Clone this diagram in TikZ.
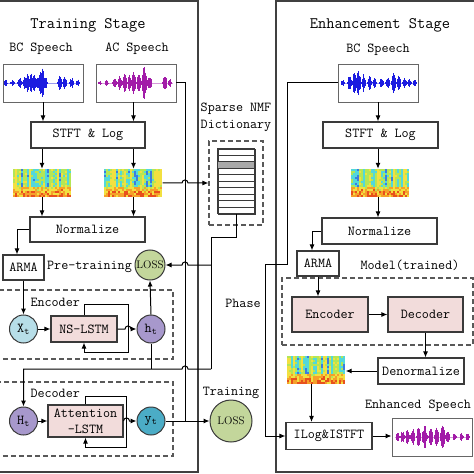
\documentclass[tikz,border=0pt]{standalone}
\usetikzlibrary{arrows, arrows.meta, positioning, calc}
\definecolor{borde}{HTML}{3A3A3A}
\definecolor{marco}{HTML}{404040}
\definecolor{rosa}{HTML}{F2DCDB}
\definecolor{oliva}{HTML}{C3D69B}
\definecolor{celeste}{HTML}{B7DEE8}
\definecolor{lila}{HTML}{A798CC}
\definecolor{turquesa}{HTML}{4BACC6}
\definecolor{azulonda}{HTML}{1C1CE0}
\definecolor{moradonda}{HTML}{A21CA8}
\definecolor{spazul}{HTML}{3C7CE0}
\definecolor{spcian}{HTML}{52D8DA}
\definecolor{spverde}{HTML}{B4E655}
\definecolor{spamar}{HTML}{F2E040}
\definecolor{spnaran}{HTML}{F5A02A}
\definecolor{sprojo}{HTML}{E8501C}
\definecolor{grisd}{HTML}{A9A9A9}
\tikzset{
  caja/.style={rectangle, draw=borde, line width=1.1bp, fill=white, minimum width=114bp,
               minimum height=26bp, inner sep=2bp},
  cajarosa/.style={rectangle, draw=borde, line width=1.1bp, fill=rosa, inner sep=2bp, align=center},
  onda/.style={rectangle, draw=gray!80!black, line width=0.9bp, fill=white, minimum width=80bp, minimum height=38bp},
  espec/.style={rectangle, minimum width=58bp, minimum height=28bp, inner sep=0pt},
  estado/.style={circle, draw=borde, line width=1bp, minimum size=28bp, inner sep=0pt},
  perdida/.style={circle, draw=borde, line width=1bp, fill=oliva, inner sep=0pt, font=\fontsize{11bp}{12bp}\rmfamily},
  grupo/.style={rectangle, draw=gray!70!black, line width=1.1bp, dash pattern=on 5bp off 3bp},
  arrow/.style={line width=1bp, ->, >={Latex[length=6bp,width=5bp]}, color=black},
  linea/.style={line width=1bp, color=black},
  marcop/.style={draw=marco, line width=2bp},
  titulo/.style={font=\fontsize{16bp}{18bp}\ttfamily}
}
% rafagas de la onda: desplazamiento/amplitud/semiancho
\newcommand{\pintaonda}[3]{%
  \begin{scope}[shift={(#1.west)}]
    \draw[#2!45, line width=0.5bp] (3,0) -- (77,0);
    \foreach \ox/\am/\an in {#3} {
      \foreach \k in {-1,-0.75,...,1} {
        \pgfmathsetmacro\hh{\am*(1-0.8*(\k)*(\k))*(0.5+0.5*rnd)}
        \draw[#2, line width=0.7bp] (\ox+\k*\an,-\hh) -- (\ox+\k*\an,\hh);
      }
    }
  \end{scope}}
% espectrograma de celdas de 2bp
\newcommand{\pintaespec}[1]{%
  \begin{scope}[shift={(#1.north west)}]
    \foreach \i in {0,...,28} {
      \pgfmathsetmacro\cb{rnd}
      \foreach \j in {0,...,13} {
        \pgfmathtruncatemacro\c{\j<9 ? min(3,max(0,floor(0.9+\cb*2.7+1.1*(rnd-0.5)))) : min(5,floor(2.6+2.4*rnd+(\j-9)*0.25))}
        \ifcase\c \def\spc{spazul}\or \def\spc{spcian}\or \def\spc{spverde}\or
          \def\spc{spamar}\or \def\spc{spnaran}\else \def\spc{sprojo}\fi
        \fill[\spc] (2*\i,2*\j) rectangle ++(2.1,2.1);
      }
    }
  \end{scope}}

\begin{document}
\begin{tikzpicture}[x=1bp, y=-1bp, font=\fontsize{13.7bp}{16bp}\ttfamily]
  \pgfmathsetseed{12}
  \useasboundingbox (0,0) rectangle (474,474);
  \draw[marcop] (-5,1) rectangle (198,472);
  \draw[marcop] (276,1) rectangle (480,472);

  % training stage
  \node (tit1) [titulo] at (88,25) {Training Stage};
  \node (lbc) at (41,49) {BC Speech};
  \node (lac) at (137,49) {AC Speech};
  \node (wbc) [onda] at (43,83) {};
  \node (wac) [onda] at (136,83) {};
  \pintaonda{wbc}{azulonda}{3/3/1.5, 10/3/2, 17/5/2, 22/7/2, 25/9/2, 29/10/2, 32/9/2, 36/7/1.5, 39/16/3, 43/6/1.5, 57/8/2, 62/6/2, 69/5/2, 75/4/1.5}
  \pintaonda{wac}{moradonda}{4/2/1.5, 11/3/1.5, 19/5/2, 24/7/2, 29/10/2, 34/9/2, 38/11/2, 43/9/2, 49/16/3, 54/7/2, 69/9/2, 74/4/1.5}
  \node (stft) [caja] at (88,135) {STFT \& Log};
  \node (sbc) [espec] at (42,183) {};
  \node (sac) [espec] at (133.5,183) {};
  \pintaespec{sbc}
  \pintaespec{sac}
  \node (norm) [caja, minimum width=115bp, minimum height=25bp] at (87.5,229.5) {Normalize};
  \node (arma) [caja, minimum width=41bp, minimum height=25bp] at (23.5,267.5) {ARMA};
  \node (lpre) at (89.5,267) {Pre-training};
  \node (lossp) [perdida, minimum size=30bp] at (150,265) {LOSS};
  \node (gen) [grupo, minimum width=178bp, minimum height=69bp] at (84,324.5) {};
  \node (lenc) [anchor=west] at (27,302) {Encoder};
  \node (xt) [estado, fill=celeste] at (23.5,329) {X\textsubscript{t}};
  \node (ns) [cajarosa, minimum width=66bp, minimum height=26bp] at (84,329) {NS-LSTM};
  \node (ht) [estado, fill=lila] at (151,329) {h\textsubscript{t}};
  \node (gdec) [grupo, minimum width=178bp, minimum height=74bp] at (84,419) {};
  \node (ldec) [anchor=west] at (27,393) {Decoder};
  \node (Ht) [estado, fill=lila] at (23.5,421) {H\textsubscript{t}};
  \node (att) [cajarosa, minimum width=75bp, minimum height=32bp] at (85.5,421) {Attention\\-LSTM};
  \node (yt) [estado, fill=turquesa] at (151,421) {y\textsubscript{t}};
  \node (ltr) at (231,393) {Training};
  \node (losst) [perdida, minimum size=42bp] at (231,421) {LOSS};

  % dictionary
  \node (lsp) [align=center, font=\fontsize{13.7bp}{17bp}\ttfamily] at (236,117) {Sparse NMF\\Dictionary};
  \node (gdic) [grupo, minimum width=54bp, minimum height=84bp] at (236,183) {};
  \node (dtab) [rectangle, draw=borde, line width=0.9bp, minimum width=37bp, minimum height=65bp, inner sep=0pt] at (236.5,181.5) {};
  \begin{scope}[shift={(dtab.north west)}]
    \fill[grisd] (0,13) rectangle (37,19.5);
    \foreach \r in {1,...,9}
      \draw[borde, line width=0.8bp] (0,6.5*\r) -- (37,6.5*\r);
    \draw[borde, line width=0.9bp] (0,0) rectangle (37,65);
  \end{scope}
  \coordinate (nudo1) at (211,265);
  \coordinate (nudo2) at (211,369);
  \coordinate (jac) at (185,421);

  \draw[arrow] (wbc.south) -- (wbc.south |- stft.north);
  \draw[arrow] (sac |- wac.south) -- (sac |- stft.north);
  \draw[arrow] (sbc |- stft.south) -- (sbc.north);
  \draw[arrow] (sac |- stft.south) -- (sac.north);
  \draw[arrow] (sbc.south) -- (sbc.south |- norm.north);
  \draw[arrow] (sac.south) -- (sac.south |- norm.north);
  \draw[arrow] (norm.west) -| ([xshift=-6.5bp]arma.north);
  \draw[arrow] (arma.south) -- (xt.north);
  \draw[arrow] (xt.east) -- (ns.west);
  \draw[arrow] (ns.east) -- (125,329) .. controls (125,325) and (131,325) .. (131,329) -- (ht.west);
  \draw[arrow] (ns.north) -- ++(0,-11) -- ++(44,0) -- ++(0,48) -- ++(-44,0) -- (ns.south);
  \draw[arrow] (ht.north) -- (lossp.south);
  \draw[linea] (ht.south) -- (ht.south |- nudo2);
  \draw[arrow] (Ht.east) -- (att.west);
  \draw[arrow] (att.east) .. controls (123.5,417) and (129.5,417) .. (129.5,421) -- (yt.west);
  \draw[arrow] (att.north) -- ++(0,-8) -- ++(40.5,0) -- ++(0,51) -- ++(-40.5,0) -- (att.south);
  \draw[arrow] (yt.east) -- (losst.west);
  \draw[linea] (wac.east) -| (jac);
  \draw[arrow] (sac.east) -- (182,183) .. controls (182,179) and (188,179) .. (188,183) -- (gdic.west);
  \draw[linea] (dtab.south) -- ++(0,23) -| (nudo2);
  \draw[arrow] (nudo1) -- (188,265) .. controls (188,261) and (182,261) .. (182,265) -- (lossp.east);
  \draw[arrow] (nudo2) -- (188,369) .. controls (188,365) and (182,365) .. (182,369) -| (Ht.north);

  % enhancement stage
  \node (tit2) [titulo] at (380,25) {Enhancement Stage};
  \node (lbc2) at (378,50) {BC Speech};
  \node (wbc2) [onda] at (378,83) {};
  \pintaonda{wbc2}{azulonda}{5/3/1.5, 12/8/2, 17/11/2, 21/13/2, 26/9/2, 32/7/2, 37/5/2, 44/5/2, 50/7/2, 56/10/2, 61/8/2, 67/5/2, 72/4/2, 77/3/1.5}
  \node (stft2) [caja, minimum width=115bp] at (380.5,135) {STFT \& Log};
  \node (se) [espec] at (380.5,183) {};
  \pintaespec{se}
  \node (norm2) [caja, minimum width=115bp] at (379.5,231) {Normalize};
  \node (arma2) [caja, minimum width=42bp, minimum height=25bp] at (318,263.5) {ARMA};
  \node (lmod) at (410,265) {Model(trained)};
  \node (gmod) [grupo, minimum width=191bp, minimum height=67bp] at (377.5,311.5) {};
  \node (enc) [cajarosa, minimum width=76bp, minimum height=35bp] at (330,314.5) {Encoder};
  \node (dec) [cajarosa, minimum width=75bp, minimum height=35bp] at (425.5,314.5) {Decoder};
  \node (den) [caja, minimum width=86bp, minimum height=26bp] at (421,371) {Denormalize};
  \node (so) [espec] at (316.5,370) {};
  \pintaespec{so}
  \node (ilog) [caja, minimum width=86bp, minimum height=27bp] at (329,436) {ILog\&ISTFT};
  \node (lenh) at (418,406) {Enhanced Speech};
  \node (wout) [onda] at (432,437) {};
  \pintaonda{wout}{moradonda}{6/5/1.5, 11/7/2, 16/8/2, 21/9/2, 27/11/2, 33/14/2.5, 39/10/2, 45/10/2, 51/13/2.5, 56/7/2, 63/4/1.5, 70/4/1.5, 76/4/1.5}
  \node (lph) at (243,303) {Phase};
  \coordinate (fase1) at (287,264);
  \coordinate (fase2) at (265,264);

  \draw[arrow] (wbc2.south) -- (wbc2.south |- stft2.north);
  \draw[arrow] (wbc2.south |- stft2.south) -- (wbc2.south |- se.north);
  \draw[arrow] (wbc2.south |- se.south) -- (wbc2.south |- norm2.north);
  \draw[arrow] (norm2.west) -| ([xshift=-6bp]arma2.north);
  \draw[arrow] (arma2.south) -- (arma2.south |- enc.north);
  \draw[arrow] (enc.east) -- (dec.west);
  \draw[arrow] (dec.south) -- (dec.south |- den.north);
  \draw[arrow] (den.west) -- (den.west -| so.east);
  \draw[arrow] ([xshift=-5bp]so.south) -- ([xshift=-5bp]so.south |- ilog.north);
  \draw[arrow] (ilog.east) -- (ilog.east -| wout.west);
  \draw[arrow] (wbc2.west) -| (fase1) -- (fase2) |- (ilog.west);
\end{tikzpicture}
\end{document}
